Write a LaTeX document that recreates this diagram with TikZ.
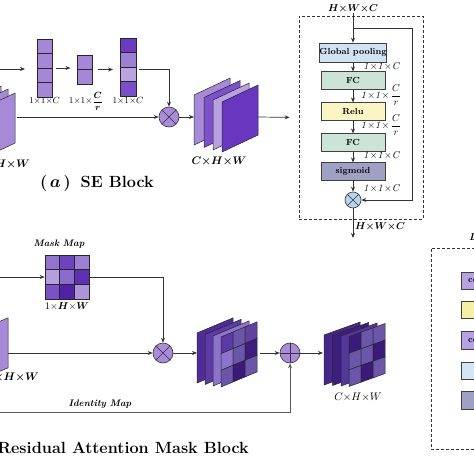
\documentclass[tikz,border=0pt]{standalone}
\usepackage{amsmath}
\usepackage{bm}
\usetikzlibrary{arrows.meta,positioning}

% feature map colours
\definecolor{mapLight}{HTML}{A68AD8}
\definecolor{mapPale}{HTML}{B7A1E0}
\definecolor{mapMid}{HTML}{7B52C9}
\definecolor{mapDark}{HTML}{6836BF}
\definecolor{colCell}{HTML}{A487D6}
\definecolor{attA}{HTML}{6B3CBF}
\definecolor{attB}{HTML}{9D7FD4}
\definecolor{attC}{HTML}{BAA4E0}
\definecolor{attD}{HTML}{7A50C8}
% mask map
\definecolor{mkA}{HTML}{9274D0}
\definecolor{mkB}{HTML}{6E42C0}
\definecolor{mkC}{HTML}{9D80D4}
\definecolor{mkD}{HTML}{B49EDE}
\definecolor{mkE}{HTML}{8B6CCC}
\definecolor{mkF}{HTML}{5E30B4}
\definecolor{mkG}{HTML}{7B52C6}
\definecolor{mkH}{HTML}{4F22A6}
\definecolor{mkI}{HTML}{AB94DA}
% dark stacks
\definecolor{dkA}{HTML}{4F2C98}
\definecolor{dkB}{HTML}{5C3BA6}
\definecolor{dkC}{HTML}{8C74CC}
\definecolor{dkD}{HTML}{45278A}
\definecolor{dkE}{HTML}{3C1E7E}
\definecolor{dkF}{HTML}{54379A}
\definecolor{gMed}{HTML}{6B56A9}
\definecolor{gDark}{HTML}{3B1B7A}
% boxes
\definecolor{poolFill}{HTML}{D0E3F3}
\definecolor{fcFill}{HTML}{CBE3D8}
\definecolor{reluFill}{HTML}{FBF4C4}
\definecolor{sigFill}{HTML}{9FA1C4}
\definecolor{mulBlue}{HTML}{B8D4EE}
\definecolor{opPurple}{HTML}{A98BD9}
\definecolor{keyYellow}{HTML}{F6EFA6}
\definecolor{keyBlue}{HTML}{D4E6F5}

\tikzset{
  flow/.style={draw=black!80, line width=0.7pt, -{Stealth[length=5pt,width=4pt]}},
  cell/.style={draw=black!85, line width=0.6pt, minimum width=15pt, minimum height=14.5pt, inner sep=0pt, outer sep=0pt},
  opbox/.style={draw=black!75, line width=0.6pt, minimum width=64pt, minimum height=17.5pt, inner sep=0pt, font=\fontsize{8.8}{10}\selectfont\bfseries},
  opnode/.style={circle, draw=black!80, line width=0.6pt, minimum size=20pt, inner sep=0pt},
  dimlab/.style={font=\fontsize{9}{10}\selectfont, inner sep=0pt},
  boxlab/.style={font=\fontsize{10}{11}\selectfont, inner sep=0pt},
  maplab/.style={font=\fontsize{10.5}{12}\selectfont, inner sep=0pt},
  caption/.style={font=\fontsize{16.2}{19}\selectfont\bfseries, inner sep=0pt},
  dashbox/.style={draw=black!80, line width=0.7pt, dash pattern=on 3pt off 2pt},
}
\newcommand{\tx}{{\times}}

% one slanted feature map: x, y of top left corner, slant, fill
\newcommand{\fmappanel}[4]{%
  \begin{scope}[shift={(#1,#2)}, yslant=#3]
    \filldraw[fill=#4, draw=black!85, line width=0.5pt] (0,0) -- (36,0) -- (36,50) -- (0,50) -- cycle;
  \end{scope}}
% same, split into a 3x3 grid of colours
\newcommand{\fmapgrid}[4]{%
  \begin{scope}[shift={(#1,#2)}, yslant=#3]
    \foreach \clr [count=\k from 0] in {#4} {
      \pgfmathtruncatemacro{\cc}{mod(\k,3)}
      \pgfmathtruncatemacro{\rr}{div(\k,3)}
      \filldraw[fill=\clr, draw=black!85, line width=0.5pt] (12*\cc,50/3*\rr) rectangle ++(12,50/3);
    }
  \end{scope}}

\begin{document}
\begin{tikzpicture}[x=1pt, y=-1pt]
  \useasboundingbox (0,0) rectangle (474,474);
  \clip (0,0) rectangle (474,474);

  % ---------- (a) SE block ----------
  % input maps (cut at the left)
  \fmappanel{-35}{103}{0.47}{mapPale}
  \fmappanel{-28}{106}{0.47}{mapLight}
  \fmappanel{-21}{110}{0.47}{mapLight}
  \coordinate (mapA-e) at (15,117);
  \node[maplab, anchor=east] (labA) at (30,164) {$\bm{C\tx H\tx W}$};
  \coordinate (inA) at (0,69);

  % squeeze vectors
  \node[cell, fill=colCell] (c1-1) at (44.5,46.25) {};
  \node[cell, fill=colCell, below=0pt of c1-1] (c1-2) {};
  \node[cell, fill=colCell, below=0pt of c1-2] (c1-3) {};
  \node[cell, fill=colCell, below=0pt of c1-3] (c1-4) {};
  \node[cell, fill=colCell] (c2-1) at (85,62.25) {};
  \node[cell, fill=colCell, below=0pt of c2-1] (c2-2) {};
  \node[cell, fill=attA, minimum width=16pt] (c3-1) at (128,45.25) {};
  \node[cell, fill=attB, minimum width=16pt, below=0pt of c3-1] (c3-2) {};
  \node[cell, fill=attC, minimum width=16pt, below=0pt of c3-2] (c3-3) {};
  \node[cell, fill=attD, minimum width=16pt, below=0pt of c3-3] (c3-4) {};
  \node[dimlab] (dim1) at (44.5,101) {$1\tx1\tx C$};
  \node[dimlab] (dim2) at (86,101) {$1\tx1\tx\dfrac{\bm C}{\bm r}$};
  \node[dimlab] (dim3) at (128,101) {$1\tx1\tx C$};

  \draw[flow, shorten >=12pt] (inA) -- (inA -| c1-2.west);
  \draw[flow, shorten <=4pt, shorten >=7pt] (c1-2.south east) -- (c1-2.south east -| c2-1.west);
  \draw[flow, shorten <=5pt, shorten >=7pt] (c2-1.south east) -- (c2-1.south east -| c3-2.west);

  % scale
  \node[opnode, fill=opPurple] (mulA) at (169,117) {};
  \draw[black!80, line width=0.6pt] (mulA.north west) -- (mulA.south east) (mulA.north east) -- (mulA.south west);
  \draw[flow, shorten <=3pt] (c2-1.south east -| c3-2.east) -| (mulA.north);
  \draw[flow, shorten <=2pt] (mapA-e) -- (mulA.west);

  % output maps
  \fmappanel{194}{95}{0.47}{mapLight}
  \fmappanel{204}{97.5}{0.47}{mapMid}
  \fmappanel{213}{100}{0.47}{mapPale}
  \fmappanel{222}{102}{0.47}{mapDark}
  \coordinate (stkA-w) at (194,117);
  \coordinate (stkA-e) at (258,117);
  \node[maplab] (labA2) at (219,161) {$\bm{C\tx H\tx W}$};
  \draw[flow] (mulA.east) -- (stkA-w);

  \node[caption, anchor=west] (capA) at (40,183) {(\,$\bm{a}$\,)\hspace{10pt}SE Block};

  % SE detail
  \node[dashbox, minimum width=124pt, minimum height=203pt] (sebox) at (361,117.5) {};
  \draw[flow, shorten >=9pt] (stkA-e) -- (sebox.west);
  \node[font=\fontsize{10}{11}\selectfont, inner sep=0pt] (topHW) at (353,9) {$\bm{H\tx W\tx C}$};
  \node[opbox, fill=poolFill, minimum height=19pt] (pool) at (353,52.5) {Global pooling};
  \node[opbox, fill=fcFill] (fc1) at (353,80.5) {FC};
  \node[opbox, fill=reluFill] (relu) at (353,111.5) {Relu};
  \node[opbox, fill=fcFill] (fc2) at (353,142.5) {FC};
  \node[opbox, fill=sigFill] (sig) at (353,171.5) {sigmoid};
  \node[opnode, fill=mulBlue, minimum size=16pt] (mulS) at (353,200) {};
  \draw[black!80, line width=0.6pt] (mulS.north west) -- (mulS.south east) (mulS.north east) -- (mulS.south west);

  \node[boxlab] (d1) at (382,66) {$\mathit{1\tx1\tx C}$};
  \node[boxlab] (d2) at (381,95) {$\mathit{1\tx1\tx}\,\dfrac{C}{r}$};
  \node[boxlab] (d3) at (381,125) {$\mathit{1\tx1\tx}\,\dfrac{C}{r}$};
  \node[boxlab] (d4) at (382,155) {$\mathit{1\tx1\tx C}$};
  \node[boxlab] (d5) at (382,188) {$\mathit{1\tx1\tx C}$};

  \coordinate (split) at (353,28);
  \coordinate (skipR) at (412,28);
  \draw[flow] (topHW.south) -- (pool.north);
  \draw[flow] (split) -- (skipR) |- (mulS.east);
  \draw[flow] (pool) -- (fc1);
  \draw[flow] (fc1) -- (relu);
  \draw[flow] (relu) -- (fc2);
  \draw[flow] (fc2) -- (sig);
  \draw[flow] (sig) -- (mulS);
  \coordinate (seOut) at (353,238);
  \draw[flow] (mulS.south) -- (seOut);
  \node[font=\fontsize{10}{11}\selectfont, inner sep=0pt] (botHW) at (380,227) {$\bm{H\tx W\tx C}$};

  % ---------- (b) residual attention mask block ----------
  \fmappanel{-28}{333}{0.42}{mapLight}
  \coordinate (mapB-e) at (8,353);
  \node[maplab, anchor=east] (labB) at (39,377) {$\bm{C\tx H\tx W}$};

  % mask map
  \foreach \clr [count=\k from 0] in {mkA,mkB,mkC,mkD,mkE,mkF,mkG,mkH,mkI} {
    \pgfmathsetmacro{\mx}{52.33+14.67*mod(\k,3)}
    \pgfmathsetmacro{\my}{262.33+14.67*div(\k,3)}
    \node[cell, fill=\clr, minimum width=14.67pt, minimum height=14.67pt] (mk-\k) at (\mx,\my) {};
  }
  \node[draw=black!85, line width=0.6pt, minimum size=44pt, inner sep=0pt] (mask) at (67,277) {};
  \node[font=\fontsize{9.5}{11}\selectfont\bfseries\itshape, inner sep=0pt] (maskLab) at (59,244) {Mask Map};
  \node[font=\fontsize{10}{11}\selectfont, inner sep=0pt] (maskDim) at (67,306) {$1\tx\bm{H}\tx\bm{W}$};
  \coordinate (inB) at (0,277);
  \draw[flow] (inB) -- (mask.west);

  \node[opnode, fill=opPurple] (mulB) at (163,353) {};
  \draw[black!80, line width=0.6pt] (mulB.north west) -- (mulB.south east) (mulB.north east) -- (mulB.south west);
  \draw[flow] (mask.east) -| (mulB.north);
  \draw[flow] (mapB-e) -- (mulB.west);

  % masked maps
  \fmappanel{197}{333}{0.42}{dkA}
  \fmappanel{205}{334.5}{0.42}{dkB}
  \fmappanel{213}{336}{0.42}{dkC}
  \fmapgrid{221}{337}{0.42}{dkB,gMed,mapMid!80!black,dkC,gMed,dkE,gMed,gDark,gMed}
  \coordinate (stkB-w) at (197,353);
  \coordinate (stkB-e) at (258,353);
  \draw[flow] (mulB.east) -- (stkB-w);

  \node[opnode, fill=opPurple] (add) at (290,353) {};
  \draw[black!80, line width=0.6pt] (add.north) -- (add.south) (add.west) -- (add.east);
  \draw[flow, shorten <=2pt] (stkB-e) -- (add.west);

  % output maps
  \fmappanel{324}{335}{0.36}{dkD}
  \fmappanel{332.5}{335.5}{0.36}{dkE}
  \fmappanel{341}{336}{0.36}{dkF}
  \fmapgrid{349}{336.5}{0.36}{gDark,gMed,gMed,gMed,gMed,gDark,gMed,gDark,gMed}
  \coordinate (stkC-w) at (323,353);
  \draw[flow] (add.east) -- (stkC-w);
  \node[maplab] (labC) at (358,397) {$C\tx H\tx W$};

  % identity path
  \coordinate (idA) at (0,412);
  \draw[flow, draw=black!65, line width=0.9pt] (idA) -| (add.south);
  \node[font=\fontsize{9.5}{11}\selectfont\bfseries\itshape, inner sep=0pt] (idLab) at (100,404) {Identity Map};

  \node[caption, anchor=east] (capB) at (249,448) {Residual Attention Mask Block};
  \node[caption, left=9pt of capB] (capBl) {(\,$\bm{b}$\,)};

  % ---------- legend (cut at the right) ----------
  \node[dashbox, minimum width=109pt, minimum height=201pt] (legend) at (485.5,348.5) {};
  \node[font=\fontsize{10}{12}\selectfont\bfseries\itshape, anchor=west, inner sep=0pt] (keyT) at (469,238) {Legend};
  \node[opbox, minimum width=30pt, anchor=west, fill=mapPale] (key1) at (461,281) {};
  \node[opbox, minimum width=30pt, anchor=west, fill=keyYellow] (key2) at (461,310) {};
  \node[opbox, minimum width=30pt, anchor=west, fill=mapPale] (key3) at (461,340.5) {};
  \node[opbox, minimum width=30pt, anchor=west, fill=keyBlue] (key4) at (461,371) {};
  \node[opbox, minimum width=30pt, anchor=west, fill=sigFill] (key5) at (461,400.5) {};
  \node[font=\fontsize{8.8}{10}\selectfont\bfseries, anchor=west, inner sep=0pt] (key1t) at (468,281) {conv};
  \node[font=\fontsize{8.8}{10}\selectfont\bfseries, anchor=west, inner sep=0pt] (key3t) at (468,340.5) {conv};
\end{tikzpicture}
\end{document}
